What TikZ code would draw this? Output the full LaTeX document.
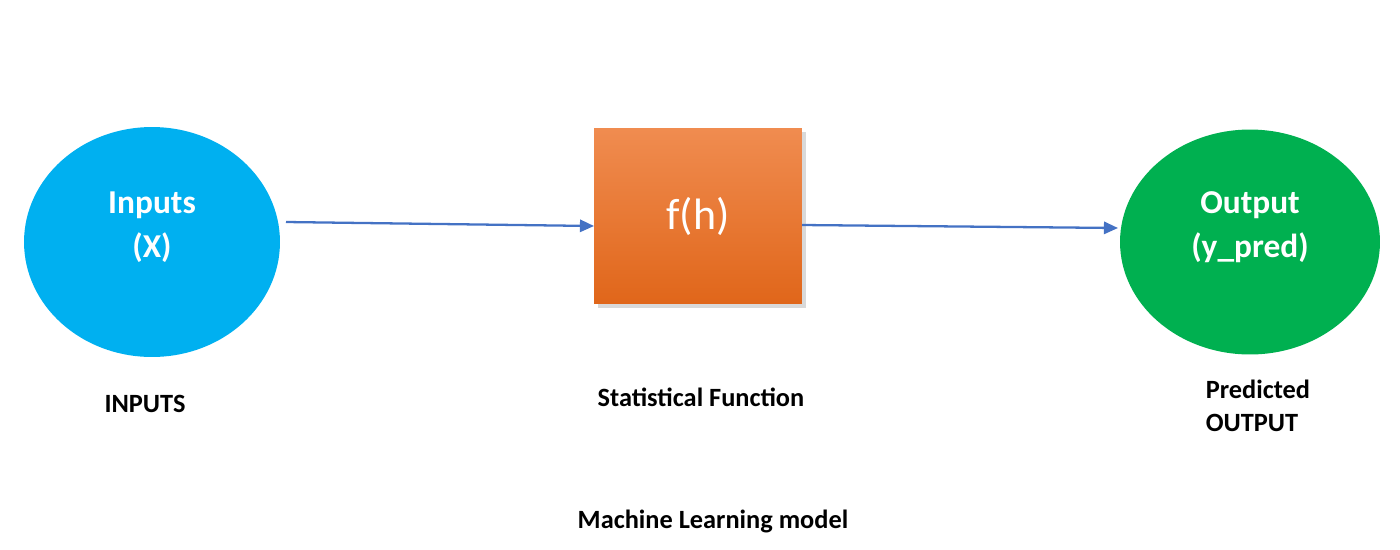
\documentclass[tikz,border=0pt]{standalone}
\usepackage{fontspec}
\setmainfont{Carlito}
\usetikzlibrary{arrows.meta,shadows,shapes.geometric}
\definecolor{cblue}{HTML}{00B0F0}
\definecolor{cgreen}{HTML}{00B050}
\definecolor{carrow}{HTML}{4472C4}
\definecolor{otop}{HTML}{F08C50}
\definecolor{obot}{HTML}{E0661A}
\tikzset{
  px/.style={x=0.02cm,y=-0.02cm},
  conn/.style={carrow,line width=1.3pt,-{Triangle[length=8pt,width=7pt]}},
  lab/.style={font=\fontsize{15}{19}\selectfont\bfseries,align=left,text=black},
  intext/.style={text=white,font=\fontsize{19}{25}\selectfont\bfseries,align=center}
}
\begin{document}
\begin{tikzpicture}[px]
\useasboundingbox (0,0) rectangle (1400,549);
\node[ellipse,fill=cblue,minimum width=5.12cm,minimum height=4.6cm,inner sep=0] (in) at (152,242) {};
\node[intext] (intxt) at (152,227) {Inputs\\(X)};
\node[fill=cgreen,ellipse,minimum width=5.2cm,minimum height=4.5cm,inner sep=0] (out) at (1250,242) {};
\node[intext] (outtxt) at (1250,227) {Output\\(y\_pred)};
\node[minimum width=4.16cm,minimum height=3.52cm,inner sep=0,top color=otop,bottom color=obot,
  drop shadow={shadow xshift=2pt,shadow yshift=-2pt,opacity=0.3}] (f) at (698,216) {};
\node[text=white,font=\fontsize{25}{30}\selectfont] (ftxt) at (698,216) {f(h)};
\coordinate (a1) at (286,222);
\coordinate (b1) at (594,226);
\draw[conn] (a1) -- (b1);
\coordinate (a2) at (802,225);
\coordinate (b2) at (1118,228);
\draw[conn] (a2) -- (b2);
\node[lab] (l1) at (145,404) {INPUTS};
\node[lab] (l2) at (701,397) {Statistical Function};
\node[lab] (l3) at (1258,406) {Predicted\\OUTPUT};
\node[lab] (l4) at (713,521) {Machine Learning model};
\end{tikzpicture}
\end{document}
